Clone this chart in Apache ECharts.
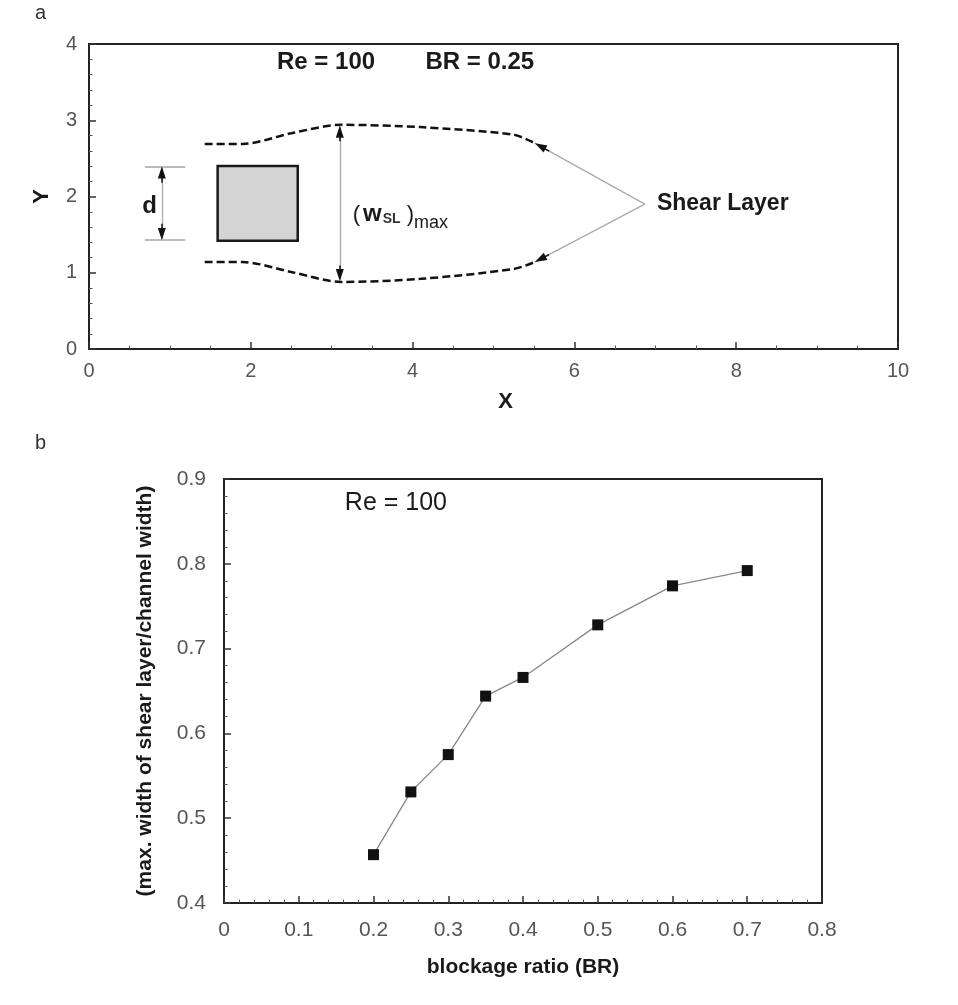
<!DOCTYPE html>
<html>
<head>
<meta charset="utf-8">
<title>Shear layer width vs blockage ratio</title>
<script src="https://cdn.jsdelivr.net/npm/echarts@6/dist/echarts.min.js"></script>
<style>
html, body { margin: 0; padding: 0; background: #fff; }
#main { width: 958px; height: 1005px; }
</style>
</head>
<body>
<div id="main"></div>
<script>
// panel b: max. shear layer width / channel width vs blockage ratio
var blockageRatio = [0.2, 0.25, 0.3, 0.35, 0.4, 0.5, 0.6, 0.7];
var shearWidthRatio = [0.457, 0.531, 0.575, 0.644, 0.666, 0.728, 0.774, 0.792];

// panel a: shear layer outlines behind the cylinder (Re = 100, BR = 0.25)
var layerX = [1.43, 1.9, 2.5, 3.12, 4.1, 5.25, 5.51];
var upperLayerY = [2.69, 2.69, 2.83, 2.94, 2.91, 2.81, 2.70];
var lowerLayerY = [1.14, 1.14, 1.01, 0.88, 0.92, 1.05, 1.14];

// square cylinder and dimension marks
var squareX = [1.59, 2.58];
var squareY = [1.42, 2.40];
var dLevels = [1.43, 2.39];
var dLineX = [0.69, 1.19];
var dArrowX = 0.9;
var wmaxX = 3.1;
var wmaxY = [0.89, 2.93];
var shearFrom = [6.87, 1.90];
var shearTips = [[5.51, 2.70], [5.51, 1.14]];

// axis ticks
var topXTicks = [0, 10, 2];
var topYTicks = [0, 4, 1];
var botXTicks = [0, 0.8, 0.1];
var botYTicks = [0.4, 0.9, 0.1];

var FONT = '"Liberation Sans", Arial, sans-serif';

var chart = echarts.init(document.getElementById('main'));

function along(tail, tip, f) {
  return [tip[0] + (tail[0] - tip[0]) * f, tip[1] + (tail[1] - tip[1]) * f];
}
// black head piece at the tip end of an arrow
function head(tail, tip, fTip, fStart) {
  return [
    { coord: along(tail, tip, fStart), symbol: 'none' },
    { coord: along(tail, tip, fTip), symbol: 'triangle', symbolSize: [8, 12] }
  ];
}

function valueAxis(grid, ticks, minorSplit, name, nameGap, labelSize, labelMargin) {
  return {
    gridIndex: grid,
    type: 'value',
    min: ticks[0],
    max: ticks[1],
    interval: ticks[2],
    name: name,
    nameLocation: 'middle',
    nameGap: nameGap,
    nameTextStyle: { fontFamily: FONT, fontWeight: 'bold', color: '#1a1a1a', fontSize: grid === 0 ? 22 : 21 },
    axisLine: { show: true, lineStyle: { color: '#222', width: 2 } },
    axisTick: { show: true, inside: true, length: 7, lineStyle: { color: '#333', width: 1.5 } },
    minorTick: { show: true, splitNumber: minorSplit, length: 3.5, lineStyle: { color: '#555', width: 1 } },
    axisLabel: { fontFamily: FONT, fontSize: labelSize, color: '#555', margin: labelMargin },
    splitLine: { show: false },
    minorSplitLine: { show: false }
  };
}

var wTail = [wmaxX, wmaxY[0]], wTip = [wmaxX, wmaxY[1]];
var dTail = [dArrowX, dLevels[0]], dTip = [dArrowX, dLevels[1]];

var xTop = valueAxis(0, topXTicks, 4, 'X', 42, 20, 12);
xTop.nameTextStyle.padding = [0, 0, 0, 24];
var yTop = valueAxis(0, topYTicks, 5, 'Y', 36, 20, 12);

var option = {
  animation: false,
  backgroundColor: '#fff',
  title: [
    { text: 'a', left: 30, top: -2, textStyle: { fontFamily: FONT, fontSize: 20, fontWeight: 'normal', color: '#333' } },
    { text: 'b', left: 30, top: 428, textStyle: { fontFamily: FONT, fontSize: 20, fontWeight: 'normal', color: '#333' } }
  ],
  grid: [
    { left: 89, top: 44, width: 809, height: 305, show: true, borderColor: '#222', borderWidth: 2, outerBoundsMode: 'none' },
    { left: 224, top: 479, width: 598, height: 424, show: true, borderColor: '#222', borderWidth: 2, outerBoundsMode: 'none' }
  ],
  xAxis: [
    xTop,
    valueAxis(1, botXTicks, 5, 'blockage ratio (BR)', 54, 21, 17)
  ],
  yAxis: [
    yTop,
    valueAxis(1, botYTicks, 5, '(max. width of shear layer/channel width)', 68, 21, 18)
  ],
  series: [
    {
      name: 'upper shear layer',
      type: 'line',
      xAxisIndex: 0, yAxisIndex: 0,
      data: layerX.map(function (x, i) { return [x, upperLayerY[i]]; }),
      smooth: 0.3,
      symbol: 'none',
      lineStyle: { color: '#111', width: 2.5, type: [8, 4] },
      silent: true,
      z: 3
    },
    {
      name: 'lower shear layer',
      type: 'line',
      xAxisIndex: 0, yAxisIndex: 0,
      data: layerX.map(function (x, i) { return [x, lowerLayerY[i]]; }),
      smooth: 0.3,
      symbol: 'none',
      lineStyle: { color: '#111', width: 2.5, type: [8, 4] },
      silent: true,
      z: 3
    },
    {
      name: 'sketch',
      type: 'scatter',
      xAxisIndex: 0, yAxisIndex: 0,
      symbolSize: 0,
      itemStyle: { opacity: 1 },
      silent: true,
      z: 2,
      data: [
        { value: [2.93, 3.76], label: { show: true, position: 'inside', formatter: 'Re = 100', fontSize: 24, fontWeight: 'bold', fontFamily: FONT, color: '#1a1a1a' } },
        { value: [4.83, 3.76], label: { show: true, position: 'inside', formatter: 'BR = 0.25', fontSize: 24, fontWeight: 'bold', fontFamily: FONT, color: '#1a1a1a' } },
        { value: [7.02, 1.90], label: { show: true, position: 'right', distance: 0, formatter: 'Shear Layer', fontSize: 23, fontWeight: 'bold', fontFamily: FONT, color: '#1a1a1a' } },
        { value: [0.75, 1.87], label: { show: true, position: 'inside', formatter: 'd', fontSize: 24, fontWeight: 'bold', fontFamily: FONT, color: '#1a1a1a' } },
        {
          value: [3.26, 1.76],
          label: {
            show: true, position: 'right', distance: 0,
            formatter: '{p|(}{w|w}{b|SL}{p| )}{c|max}',
            rich: {
              p: { fontSize: 22, fontFamily: FONT, color: '#1a1a1a' },
              w: { fontSize: 24, fontWeight: 'bold', fontFamily: FONT, color: '#1a1a1a', padding: [0, 0, 0, 3] },
              b: { fontSize: 14, fontWeight: 'bold', fontFamily: FONT, color: '#333', padding: [8, 0, 0, 1] },
              c: { fontSize: 18, fontFamily: FONT, color: '#1a1a1a', padding: [16, 0, 0, 0] }
            }
          }
        }
      ],
      markArea: {
        silent: true,
        itemStyle: { color: '#d4d4d4', borderColor: '#1a1a1a', borderWidth: 2.5 },
        data: [[{ coord: [squareX[0], squareY[1]] }, { coord: [squareX[1], squareY[0]] }]]
      },
      markLine: {
        silent: true,
        symbol: ['none', 'none'],
        label: { show: false },
        lineStyle: { color: '#aaa', width: 1.3, type: 'solid' },
        data: [
          [{ coord: wTail }, { coord: wTip }],
          [{ coord: dTail }, { coord: dTip }],
          [{ coord: shearFrom }, { coord: shearTips[0] }],
          [{ coord: shearFrom }, { coord: shearTips[1] }],
          [{ coord: [dLineX[0], dLevels[0]], lineStyle: { color: '#bbb', width: 1.8 } }, { coord: [dLineX[1], dLevels[0]] }],
          [{ coord: [dLineX[0], dLevels[1]], lineStyle: { color: '#bbb', width: 1.8 } }, { coord: [dLineX[1], dLevels[1]] }]
        ]
      }
    },
    {
      name: 'arrow heads',
      type: 'line',
      xAxisIndex: 0, yAxisIndex: 0,
      data: [],
      silent: true,
      z: 4,
      markLine: {
        silent: true,
        label: { show: false },
        lineStyle: { color: '#111', width: 1.5, type: 'solid' },
        data: [
          head(wTail, wTip, 0.04, 0.1),
          head(wTip, wTail, 0.04, 0.1),
          head(dTail, dTip, 0.08, 0.22),
          head(dTip, dTail, 0.08, 0.22),
          head(shearFrom, shearTips[0], 0.05, 0.13),
          head(shearFrom, shearTips[1], 0.05, 0.13)
        ]
      }
    },
    {
      name: 'Re = 100',
      type: 'line',
      xAxisIndex: 1, yAxisIndex: 1,
      data: blockageRatio.map(function (br, i) { return [br, shearWidthRatio[i]]; }),
      symbol: 'rect',
      symbolSize: 11,
      itemStyle: { color: '#111' },
      lineStyle: { color: '#888', width: 1.3 },
      z: 3
    },
    {
      name: 'note b',
      type: 'scatter',
      xAxisIndex: 1, yAxisIndex: 1,
      symbolSize: 0,
      itemStyle: { opacity: 1 },
      silent: true,
      data: [
        { value: [0.23, 0.872], label: { show: true, position: 'inside', formatter: 'Re = 100', fontSize: 25, fontFamily: FONT, color: '#1a1a1a' } }
      ]
    }
  ]
};

chart.setOption(option);
</script>
</body>
</html>
